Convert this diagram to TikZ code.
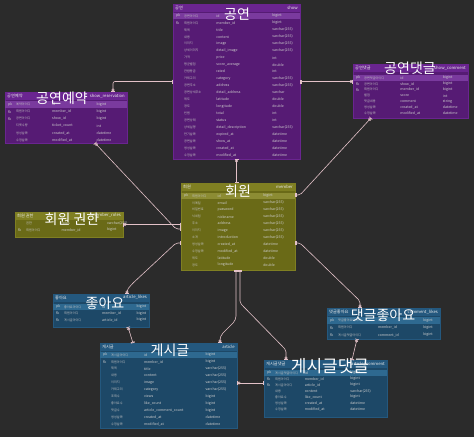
\documentclass[tikz,border=0pt]{standalone}
\usepackage{fontspec}
\newfontfamily\kr{Noto Sans CJK KR}
\usetikzlibrary{calc,arrows.meta}
\definecolor{bgc}{HTML}{2B2B2B}
\definecolor{pbody}{HTML}{561B74}
\definecolor{phead}{HTML}{6A2590}
\definecolor{ppk}{HTML}{7A3A9E}
\definecolor{obody}{HTML}{6A6A17}
\definecolor{ohead}{HTML}{7F7F22}
\definecolor{opk}{HTML}{8C8C33}
\definecolor{bbody}{HTML}{1D4867}
\definecolor{bhead}{HTML}{24587E}
\definecolor{bpk}{HTML}{2E6990}
\definecolor{linkc}{HTML}{E3C2C8}
\definecolor{rowtxt}{HTML}{CFCFCF}
\tikzset{
  tframe/.style={inner sep=0pt, outer sep=0pt, line width=0.4pt},
  rowt/.style={font=\kr\fontsize{3.5}{4}\selectfont, text=rowtxt, inner sep=0pt, anchor=west},
  kort/.style={font=\kr\fontsize{3.1}{4}\selectfont, text=rowtxt!85!gray, inner sep=0pt, anchor=west},
  hdr/.style={font=\kr\fontsize{4.2}{5}\selectfont, text=white!85!gray, inner sep=0pt},
  ttl/.style={font=\kr\fontsize{14}{14}\selectfont, text=white, inner sep=0pt},
  rel/.style={draw=linkc, line width=0.6pt, rounded corners=2pt,
    {Bar[width=4pt]Bar[width=4pt]}-{Circle[open,length=3pt,width=3pt]Bar[width=4pt]}},
}
% frame: id, x, y, w, h, body, head
\newcommand{\erdframe}[7]{%
  \node[tframe, fill=#6, draw=#7, minimum width=#4pt, minimum height=#5pt, anchor=north west] (#1) at (#2,#3) {};
  \fill[#7] (#2,#3) rectangle ++(#4,8);
}
% header labels: id, x, y(center), w, left, right
\newcommand{\erdhead}[6]{%
  \node[hdr, anchor=west] (#1-hl) at (#2+2,#3) {#5};
  \node[hdr, anchor=east] (#1-hr) at (#2+#4-2,#3) {#6};
}
% pk band: x, ycenter, w, rowh, colour
\newcommand{\erdpk}[5]{%
  \fill[#5] (#1,#2-#4/2) rectangle ++(#3,#4);
}
% rows: id, x, yfirst, w, rowh, colfrac, typefrac, list
\newcommand{\erdrows}[8]{%
  \foreach \kk/\ka/\kb/\kc [count=\ii] in {#8} {
    \pgfmathsetmacro\yy{#3+(\ii-1)*#5}
    \node[rowt] (#1-k\ii) at (#2+3,\yy) {\kk};
    \node[kort] (#1-a\ii) at (#2+11,\yy) {\ka};
    \node[rowt] (#1-b\ii) at (#2+#6*#4,\yy) {\kb};
    \node[rowt] (#1-c\ii) at (#2+#7*#4,\yy) {\kc};
  }
}
\begin{document}
\begin{tikzpicture}[x=1pt,y=-1pt]
\fill[bgc] (0,0) rectangle (474,437);
\useasboundingbox (0,0) rectangle (474,437);

% ---------- 공연 ----------
\erdframe{show}{173}{4}{127}{155}{pbody}{phead}
\erdpk{173}{16}{127}{6.95}{ppk}
\erdhead{show}{173}{8}{127}{공연}{show}
\erdrows{show}{173}{16}{127}{6.95}{0.34}{0.78}{pk/공연아이디/id/bigint, fk/회원아이디/member\_id/bigint, {}/제목/title/varchar(255), {}/내용/content/varchar(255), {}/이미지/image/varchar(255), {}/상세이미지/detail\_image/varchar(255), {}/가격/price/int, {}/평균별점/score\_average/double, {}/관람등급/rated/int, {}/카테고리/category/varchar(255), {}/공연주소/address/varchar(255), {}/공연상세주소/detail\_address/varchar, {}/위도/latitude/double, {}/경도/longitude/double, {}/인원/total/int, {}/공연상태/status/int, {}/상세설명/detail\_description/varchar(255), {}/만기날짜/expired\_at/datetime, {}/공연날짜/show\_at/datetime, {}/생성날짜/created\_at/datetime, {}/수정날짜/modified\_at/datetime}
\node[ttl] (show-t) at (237,14) {공연};

% ---------- 공연예약 ----------
\erdframe{res}{5}{92}{122}{51}{pbody}{phead}
\erdpk{5}{104.5}{122}{7.1}{ppk}
\erdhead{res}{5}{96}{122}{공연예약}{show\_reservation}
\erdrows{res}{5}{104.5}{122}{7.1}{0.385}{0.75}{pk/예약아이디/id/bigint, fk/회원아이디/member\_id/bigint, fk/공연아이디/show\_id/bigint, {}/티켓수량/ticket\_count/int, {}/생성날짜/created\_at/datetime, {}/수정날짜/modified\_at/datetime}
\node[ttl] (res-t) at (62,98) {공연예약};

% ---------- 공연댓글 ----------
\erdframe{scom}{353}{64}{115}{54}{pbody}{phead}
\erdpk{353}{78}{115}{5.9}{ppk}
\erdhead{scom}{353}{68}{115}{공연댓글}{show\_comment}
\erdrows{scom}{353}{78}{115}{5.9}{0.41}{0.78}{pk/공연댓글아이디/id/bigint, fk/공연아이디/show\_id/bigint, fk/회원아이디/member\_id/bigint, {}/별점/score/int, {}/댓글내용/comment/string, {}/생성날짜/created\_at/datetime, {}/수정날짜/modified\_at/datetime}
\node[ttl] (scom-t) at (410,68) {공연댓글};

% ---------- 회원 ----------
\erdframe{member}{181}{183}{114}{87}{obody}{ohead}
\erdpk{181}{196}{114}{6.9}{opk}
\erdhead{member}{181}{187}{114}{회원}{member}
\erdrows{member}{181}{196}{114}{6.9}{0.32}{0.72}{pk/회원아이디/id/bigint, {}/이메일/email/varchar(255), {}/비밀번호/password/varchar(255), {}/닉네임/nickname/varchar(255), {}/주소/address/varchar(255), {}/이미지/image/varchar(255), {}/소개/introduction/varchar(255), {}/생성날짜/created\_at/datetime, {}/수정날짜/modified\_at/datetime, {}/위도/latitude/double, {}/경도/longitude/double}
\node[ttl] (member-t) at (238,191) {회원};

% ---------- 회원 권한 ----------
\erdframe{roles}{15}{212}{108}{25}{obody}{ohead}
\erdhead{roles}{15}{215.5}{108}{회원 권한}{member\_roles}
\erdrows{roles}{15}{223}{108}{7}{0.43}{0.85}{{}/권한/roles/varchar(255), fk/회원아이디/member\_id/bigint}
\node[ttl] (roles-t) at (72,219) {회원 권한};

% ---------- 좋아요 ----------
\erdframe{alike}{53}{294}{96}{33}{bbody}{bhead}
\erdpk{53}{307}{96}{6.5}{bpk}
\erdhead{alike}{53}{297.5}{96}{좋아요}{article\_likes}
\erdrows{alike}{53}{307}{96}{6.5}{0.51}{0.87}{pk/좋아요아이디/id/bigint, fk/회원아이디/member\_id/bigint, fk/게시글아이디/article\_id/bigint}
\node[ttl] (alike-t) at (105,303) {좋아요};

% ---------- 댓글좋아요 ----------
\erdframe{clike}{327}{308}{113}{31}{bbody}{bhead}
\erdpk{327}{320.5}{113}{7}{bpk}
\erdhead{clike}{327}{312}{113}{댓글좋아요}{comment\_likes}
\erdrows{clike}{327}{320.5}{113}{7.2}{0.45}{0.85}{pk/댓글좋아요아이디/id/bigint, fk/회원아이디/member\_id/bigint, fk/게시글댓글아이디/comment\_id/bigint}
\node[ttl] (clike-t) at (383,315) {댓글좋아요};

% ---------- 게시글 ----------
\erdframe{article}{100}{343}{137}{85}{bbody}{bhead}
\erdpk{100}{355}{137}{6.9}{bpk}
\erdhead{article}{100}{346.5}{137}{게시글}{article}
\erdrows{article}{100}{355}{137}{6.9}{0.32}{0.77}{pk/게시글아이디/id/bigint, fk/회원아이디/member\_id/bigint, {}/제목/title/varchar(255), {}/내용/content/varchar(255), {}/이미지/image/varchar(255), {}/카테고리/category/varchar(255), {}/조회수/views/bigint, {}/좋아요수/like\_count/bigint, {}/댓글수/article\_comment\_count/bigint, {}/생성날짜/created\_at/datetime, {}/수정날짜/modified\_at/datetime}
\node[ttl] (article-t) at (170,350) {게시글};

% ---------- 게시글댓글 ----------
\erdframe{acom}{264}{360}{123}{57}{bbody}{bhead}
\erdpk{264}{373}{123}{6}{bpk}
\erdhead{acom}{264}{364}{123}{게시글댓글}{article\_comment}
\erdrows{acom}{264}{373}{123}{6}{0.33}{0.70}{pk/게시글댓글아이디/id/bigint, fk/회원아이디/member\_id/bigint, fk/게시글아이디/article\_id/bigint, {}/내용/content/varchar(255), {}/좋아요수/like\_count/bigint, {}/생성날짜/created\_at/datetime, {}/수정날짜/modified\_at/datetime}
\node[ttl, font=\kr\fontsize{17}{17}\selectfont] (acom-t) at (330,366) {게시글댓글};

% ---------- connectors ----------
\draw[rel] (show.west) -| ($(res.north east)+(-14,0)$);
\draw[rel] (show.east) -- (show.east -| scom.west);
\draw[rel] ($(member.west)+(0,2.5)$) -- ($(member.west)+(-5,2.5)$) -- ($(res.south west)+(90,0)$);
\draw[rel] (roles.east -| member.west) -- (roles.east);
\draw[rel] ($(member.north east)+(0,12)$) -- ($(member.north east)+(5,12)$) -- ($(scom.south west)+(18,0)$);
\draw[rel] (show.south |- member.north) -- (show.south);
\draw[rel] ($(member.south west)+(0,-27)$) -- ++(-5,0) -- ($(alike.north west)+(79,-10)$) -- ($(alike.north west)+(74,-4)$) -- ($(alike.north west)+(74,0)$);
\draw[rel] ($(member.south east)+(0,-27)$) -- ++(5,0) -- ($(clike.north west)+(33,-7)$) -- ($(clike.north west)+(33,0)$);
\draw[rel, rounded corners=4pt] ($(member.south)+(-2,0)$) -- ++(0,50) -- ($(article.north west)+(120,-7)$) -- ($(article.north west)+(120,0)$);
\draw[rel] ($(member.south)+(2,0)$) -- ++(0,33) -- ($(acom.north west)+(22,-10)$) -- ($(acom.north west)+(22,0)$);
\draw[rel] ($(article.north west)+(33,0)$) -- ($(alike.south west)+(75,0)$);
\draw[rel] ($(acom.north west)+(88,0)$) -- ($(clike.south west)+(30,0)$);
\draw[rel] ($(acom.north west)+(0,23)$) -- ($(article.north east)+(0,40)$);
\end{tikzpicture}
\end{document}
